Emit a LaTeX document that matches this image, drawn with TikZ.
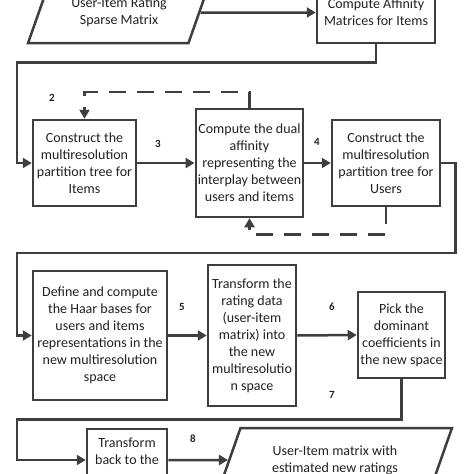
\documentclass[tikz,border=0pt]{standalone}
\usepackage{fontspec}
\setmainfont{Carlito}
\usetikzlibrary{arrows.meta,shapes.geometric}

\definecolor{linegray}{HTML}{3E3E3E}
\definecolor{textgray}{HTML}{222222}

\tikzset{
  stepbox/.style={draw=linegray, line width=2.5pt, fill=white, text=textgray,
    align=center, inner sep=2pt, font=\fontsize{14}{17}\selectfont},
  databox/.style={stepbox, shape=trapezium, trapezium left angle=65,
    trapezium right angle=115, trapezium stretches=true},
  flow/.style={draw=linegray, line width=2.5pt, -{Triangle[length=9pt,width=10pt]}},
  loopback/.style={flow, dash pattern=on 17pt off 11pt},
  steplabel/.style={text=textgray, font=\fontsize{11}{13}\selectfont\bfseries}
}

\begin{document}
\begin{tikzpicture}[x=1pt, y=-1pt]
      \useasboundingbox (0,0) rectangle (474,474);
      \clip (0,0) rectangle (474,474);
      \node[databox, minimum width=182pt, minimum height=61pt] (rating) at (119, 12.5) {User-Item Rating\\Sparse Matrix};
      \node[stepbox, minimum width=118pt, minimum height=61pt] (affI) at (376, 12.5) {Compute Affinity\\Matrices for Items};
      \node[stepbox, minimum width=103pt, minimum height=86pt] (treeI) at (84.5, 163) {Construct the\\multiresolution\\partition tree for\\Items};
      \node[stepbox, minimum width=107pt, minimum height=108pt] (dual) at (249.5, 163) {Compute the dual\\affinity\\representing the\\interplay between\\users and items};
      \node[stepbox, minimum width=108pt, minimum height=86pt] (treeU) at (386, 163) {Construct the\\multiresolution\\partition tree for\\Users};
      \node[stepbox, minimum width=134pt, minimum height=129pt] (haar) at (100, 335.5) {Define and compute\\the Haar bases for\\users and items\\representations in the\\new multiresolution\\space};
      \node[stepbox, minimum width=88pt, minimum height=141pt] (trans) at (252, 335.5) {Transform the\\rating data\\(user-item\\matrix) into\\the new\\multiresolutio\\n space};
      \node[stepbox, minimum width=87pt, minimum height=86pt] (pick) at (401.5, 335) {Pick the\\dominant\\coefficients in\\the new space};
      \node[stepbox, minimum width=80pt, minimum height=62pt] (back) at (127, 460) {Transform\\back to the\\\mbox{}};
      \node[databox, minimum width=234pt, minimum height=64pt] (result) at (335, 460) {User-Item matrix with\\estimated new ratings};
      \node[steplabel] (n2) at (52, 98) {2};
      \node[steplabel] (n3) at (158, 144) {3};
      \node[steplabel] (n4) at (317, 142) {4};
      \node[steplabel] (n5) at (182, 307) {5};
      \node[steplabel] (n6) at (332, 307) {6};
      \node[steplabel] (n7) at (332, 395) {7};
      \node[steplabel] (n8) at (193, 439) {8};
      \draw[flow] (rating.east) -- (affI.west);
      \draw[flow] (affI.south) -- ++(0,18) -| ([xshift=-15pt]treeI.west) -- (treeI.west);
      \draw[flow] (treeI.east) -- (dual.west);
      \draw[flow] (dual.east) -- (treeU.west);
      \draw[loopback] (dual.north) -- ++(0,-16) -| (treeI.north);
      \draw[loopback] (treeU.south) -- ++(0,27) -| (dual.south);
      \draw[flow] (treeU.east) -- ++(14,0) -- ++(0,90) -| ([xshift=-15pt]haar.west) -- (haar.west);
      \draw[flow] (haar.east) -- (trans.west);
      \draw[flow] (trans.east) -- (pick.west);
      \draw[flow] (pick.south) -- ++(0,40) -| ([xshift=-69pt]back.west) -- (back.west);
      \draw[flow] (back.east) -- (result.west);
   \end{tikzpicture}
\end{document}
